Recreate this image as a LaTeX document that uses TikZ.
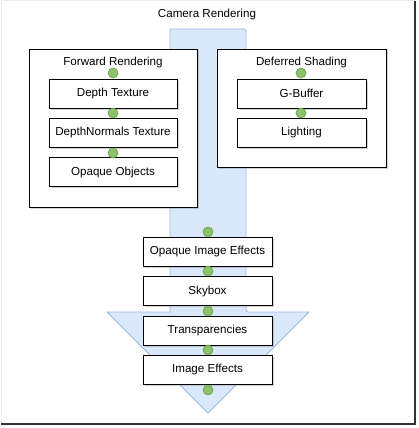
\documentclass[tikz,border=0pt]{standalone}
\usepackage{fontspec}
\setmainfont{Liberation Sans}
\usetikzlibrary{shadows}
\definecolor{arrowfill}{HTML}{DAE8FC}
\definecolor{arrowline}{HTML}{9DB8E0}
\definecolor{dotfill}{HTML}{8CC26A}
\definecolor{dotline}{HTML}{6A9B4C}
\begin{document}
\begin{tikzpicture}[x=1pt,y=-1pt,
  font=\fontsize{11.6}{14}\selectfont,
  box/.style={draw=black,line width=0.8pt,fill=white,
    drop shadow={shadow xshift=1.5pt,shadow yshift=-1.5pt,opacity=0.35},
    minimum height=29pt,inner sep=0pt},
  group/.style={draw=black,line width=0.8pt,fill=white,
    drop shadow={shadow xshift=1.5pt,shadow yshift=-1.5pt,opacity=0.35},inner sep=0pt},
  dot/.style={circle,draw=dotline,fill=dotfill,line width=0.6pt,minimum size=10pt,inner sep=0pt}]
\useasboundingbox (0,0) rectangle (418,428);
% outer frame
\fill[white] (1,1) rectangle (415,424);
\draw[gray!15,line width=1pt] (1,424) -- (1,1) -- (415,1);
\draw[black!80,line width=1.2pt] (415,1) -- (415,424) -- (1,424);
% title
\node (title) at (207,15) {Camera Rendering};
% big arrow
\draw[arrowline,fill=arrowfill,line width=0.8pt,rounded corners=1.5pt]
  (170,29) -- (246,29) -- (246,312) [sharp corners] -- (309,312) -- (208,413) -- (107,312) -- (170,312) -- cycle;
% groups
\node[group,minimum width=168pt,minimum height=158pt] (fwd) at (113,128) {};
\node (fwdt) at (113,63) {Forward Rendering};
\node[group,minimum width=169pt,minimum height=118pt] (def) at (301.5,108) {};
\node (deft) at (301.5,63) {Deferred Shading};
% left boxes
\node[box,minimum width=128pt] (dt) at (113,93.5) {Depth Texture};
\node[box,minimum width=128pt] (dn) at (113,132.5) {DepthNormals Texture};
\node[box,minimum width=128pt] (oo) at (113,172) {Opaque Objects};
% right boxes
\node[box,minimum width=129pt] (gb) at (301.5,93.5) {G-Buffer};
\node[box,minimum width=129pt] (li) at (301.5,132.5) {Lighting};
% bottom boxes
\node[box,minimum width=129pt] (oie) at (207.5,251.5) {Opaque Image Effects};
\node[box,minimum width=129pt] (sky) at (207.5,291) {Skybox};
\node[box,minimum width=129pt] (tr) at (207.5,330.5) {Transparencies};
\node[box,minimum width=129pt] (ie) at (207.5,370) {Image Effects};
% dots
\node[dot] (d1) at (113,73) {};
\node[dot] (d2) at (113,113) {};
\node[dot] (d3) at (113,153) {};
\node[dot] (d4) at (301,73) {};
\node[dot] (d5) at (301,113) {};
\node[dot] (d6) at (208,232) {};
\node[dot] (d7) at (208,271) {};
\node[dot] (d8) at (208,311) {};
\node[dot] (d9) at (208,350) {};
\node[dot] (d10) at (208,390) {};
\end{tikzpicture}
\end{document}
